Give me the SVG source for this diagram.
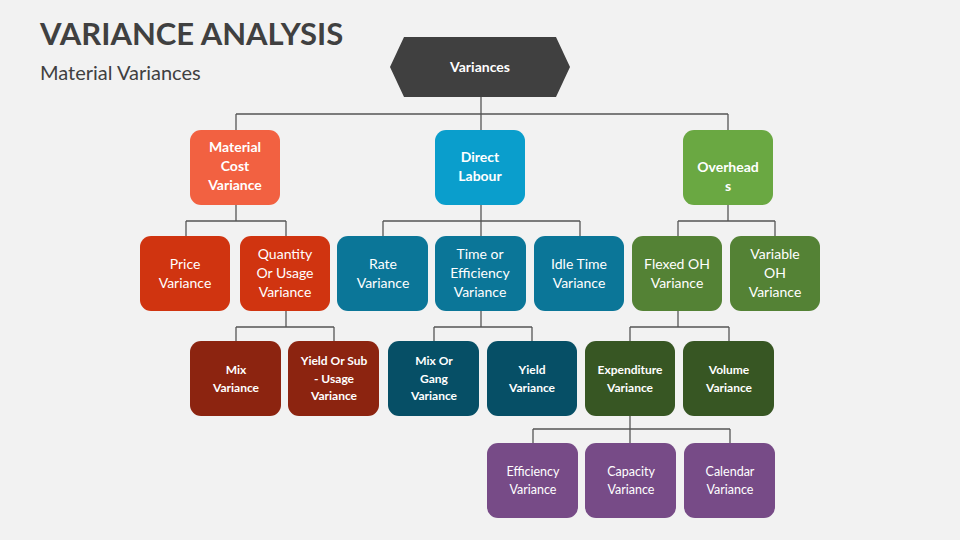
<svg xmlns="http://www.w3.org/2000/svg" width="960" height="540" viewBox="0 0 960 540">
<style>
text{font-family:Lato,"Open Sans","Liberation Sans",sans-serif;fill:#fff;text-anchor:middle}
.b{font-weight:700;font-size:14px}
.r{font-size:14px}
.s{font-weight:700;font-size:12px}
.t{font-size:12.5px}
.c line{stroke:#555;stroke-width:1.3}
</style>
<rect width="960" height="540" fill="#f2f2f2"/>
<text x="40" y="45" style="fill:#404040;text-anchor:start;font-size:31px;font-weight:700">VARIANCE ANALYSIS</text>
<text x="40" y="80" style="fill:#404040;text-anchor:start;font-size:20px">Material Variances</text>
<g class="c">
<line x1="481" y1="97" x2="481" y2="114"/><line x1="236" y1="114" x2="728" y2="114"/>
<line x1="236" y1="114" x2="236" y2="130"/><line x1="481" y1="114" x2="481" y2="130"/><line x1="728" y1="114" x2="728" y2="130"/>
<line x1="236" y1="205" x2="236" y2="221"/><line x1="186" y1="221" x2="286" y2="221"/><line x1="186" y1="221" x2="186" y2="236"/><line x1="286" y1="221" x2="286" y2="236"/>
<line x1="481" y1="205" x2="481" y2="236"/><line x1="383" y1="221" x2="580" y2="221"/><line x1="383" y1="221" x2="383" y2="236"/><line x1="580" y1="221" x2="580" y2="236"/>
<line x1="728" y1="205" x2="728" y2="221"/><line x1="678" y1="221" x2="775" y2="221"/><line x1="678" y1="221" x2="678" y2="236"/><line x1="775" y1="221" x2="775" y2="236"/>
<line x1="286" y1="311" x2="286" y2="327"/><line x1="236" y1="327" x2="334" y2="327"/><line x1="236" y1="327" x2="236" y2="341"/><line x1="334" y1="327" x2="334" y2="341"/>
<line x1="481" y1="311" x2="481" y2="327"/><line x1="434" y1="327" x2="532" y2="327"/><line x1="434" y1="327" x2="434" y2="341"/><line x1="532" y1="327" x2="532" y2="341"/>
<line x1="678" y1="311" x2="678" y2="327"/><line x1="630" y1="327" x2="729" y2="327"/><line x1="630" y1="327" x2="630" y2="341"/><line x1="729" y1="327" x2="729" y2="341"/>
<line x1="630" y1="416" x2="630" y2="443"/><line x1="533" y1="429" x2="730" y2="429"/><line x1="533" y1="429" x2="533" y2="443"/><line x1="730" y1="429" x2="730" y2="443"/>
</g>
<g id="variances"><polygon points="404,37 556,37 570,67 556,97 404,97 390,67" fill="#404040"/><text class="b" x="480" y="72">Variances</text></g>
<g id="mcv"><rect x="190" y="130" width="90" height="75" rx="11" fill="#F26141"/><text class="b" x="235" y="152">Material</text><text class="b" x="235" y="171">Cost</text><text class="b" x="235" y="190">Variance</text></g>
<g id="dl"><rect x="435" y="130" width="90" height="75" rx="11" fill="#0A9ECC"/><text class="b" x="480" y="162">Direct</text><text class="b" x="480" y="181">Labour</text></g>
<g id="oh"><rect x="683" y="130" width="90" height="75" rx="11" fill="#6AA842"/><text class="b" x="728" y="172">Overhead</text><text class="b" x="728" y="191">s</text></g>
<g id="price"><rect x="140" y="236" width="90" height="75" rx="11" fill="#D03410"/><text class="r" x="185" y="269">Price</text><text class="r" x="185" y="288">Variance</text></g>
<g id="qty"><rect x="240" y="236" width="90" height="75" rx="11" fill="#D03410"/><text class="r" x="285" y="259">Quantity</text><text class="r" x="285" y="278">Or Usage</text><text class="r" x="285" y="297">Variance</text></g>
<g id="rate"><rect x="337" y="236" width="91" height="75" rx="11" fill="#0B7698"/><text class="r" x="383" y="269">Rate</text><text class="r" x="383" y="288">Variance</text></g>
<g id="time"><rect x="435" y="236" width="91" height="75" rx="11" fill="#0B7698"/><text class="r" x="480" y="259">Time or</text><text class="r" x="480" y="278">Efficiency</text><text class="r" x="480" y="297">Variance</text></g>
<g id="idle"><rect x="534" y="236" width="90" height="75" rx="11" fill="#0B7698"/><text class="r" x="579" y="269">Idle Time</text><text class="r" x="579" y="288">Variance</text></g>
<g id="flexed"><rect x="632" y="236" width="90" height="75" rx="11" fill="#548235"/><text class="r" x="677" y="269">Flexed OH</text><text class="r" x="677" y="288">Variance</text></g>
<g id="varoh"><rect x="730" y="236" width="90" height="75" rx="11" fill="#548235"/><text class="r" x="775" y="259">Variable</text><text class="r" x="775" y="278">OH</text><text class="r" x="775" y="297">Variance</text></g>
<g id="mix"><rect x="190" y="341" width="91" height="75" rx="11" fill="#8C2410"/><text class="s" x="236" y="374">Mix</text><text class="s" x="236" y="392">Variance</text></g>
<g id="yieldsub"><rect x="288" y="341" width="91" height="75" rx="11" fill="#8C2410"/><text class="s" x="334" y="365">Yield Or Sub</text><text class="s" x="334" y="383">- Usage</text><text class="s" x="334" y="400">Variance</text></g>
<g id="mixgang"><rect x="388" y="341" width="91" height="75" rx="11" fill="#064F66"/><text class="s" x="434" y="365">Mix Or</text><text class="s" x="434" y="383">Gang</text><text class="s" x="434" y="400">Variance</text></g>
<g id="yield"><rect x="487" y="341" width="90" height="75" rx="11" fill="#064F66"/><text class="s" x="532" y="374">Yield</text><text class="s" x="532" y="392">Variance</text></g>
<g id="exp"><rect x="585" y="341" width="90" height="75" rx="11" fill="#375623"/><text class="s" x="630" y="374">Expenditure</text><text class="s" x="630" y="392">Variance</text></g>
<g id="vol"><rect x="683" y="341" width="91" height="75" rx="11" fill="#375623"/><text class="s" x="729" y="374">Volume</text><text class="s" x="729" y="392">Variance</text></g>
<g id="eff"><rect x="487" y="443" width="91" height="75" rx="11" fill="#774B87"/><text class="t" x="533" y="476">Efficiency</text><text class="t" x="533" y="494">Variance</text></g>
<g id="cap"><rect x="585" y="443" width="91" height="75" rx="11" fill="#774B87"/><text class="t" x="631" y="476">Capacity</text><text class="t" x="631" y="494">Variance</text></g>
<g id="cal"><rect x="684" y="443" width="91" height="75" rx="11" fill="#774B87"/><text class="t" x="730" y="476">Calendar</text><text class="t" x="730" y="494">Variance</text></g>
</svg>
